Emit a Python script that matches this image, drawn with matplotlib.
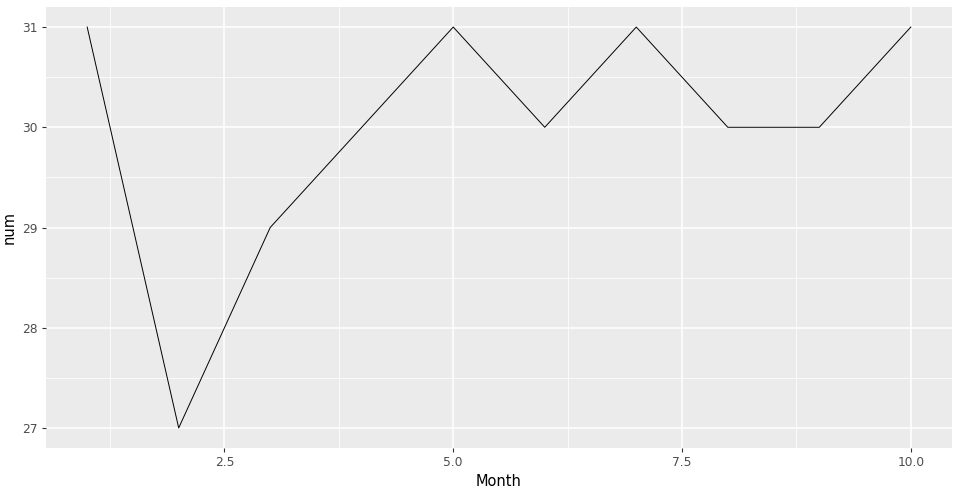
import matplotlib
matplotlib.use("Agg")
import matplotlib.pyplot as plt

months = [1, 2, 3, 4, 5, 6, 7, 8, 9, 10]
num = [31, 27, 29, 30, 31, 30, 31, 30, 30, 31]
x_ticks = [2.5, 5.0, 7.5, 10.0]
x_tick_labels = ["2.5", "5.0", "7.5", "10.0"]
y_ticks = [27, 28, 29, 30, 31]

fig = plt.figure(figsize=(9.6, 4.93), dpi=100)
ax = fig.add_axes([46/960, 45/493, 906/960, 441/493])
ax.set_facecolor("#EBEBEB")
for s in ax.spines.values():
    s.set_visible(False)

xr = max(months) - min(months)
ax.set_xlim(min(months) - 0.05*xr, max(months) + 0.05*xr)
yr = max(num) - min(num)
ax.set_ylim(min(num) - 0.05*yr, max(num) + 0.05*yr)

ax.set_xticks(x_ticks)
ax.set_xticklabels(x_tick_labels)
ax.set_yticks(y_ticks)
ax.set_xticks([1.25, 3.75, 6.25, 8.75], minor=True)
ax.set_yticks([27.5, 28.5, 29.5, 30.5], minor=True)
ax.grid(which="major", color="white", linewidth=1.1)
ax.grid(which="minor", color="white", linewidth=0.55)
ax.set_axisbelow(True)
ax.tick_params(which="major", length=3, width=0.8, color="#333333",
               labelsize=8.8, labelcolor="#4D4D4D", pad=3)
ax.tick_params(which="minor", length=0)

ax.plot(months, num, color="black", linewidth=0.7)
ax.set_xlabel("Month", fontsize=10.5, color="black", labelpad=3)
ax.set_ylabel("num", fontsize=10.5, color="black", labelpad=4)

fig.savefig("out.png", dpi=100, facecolor="white")
